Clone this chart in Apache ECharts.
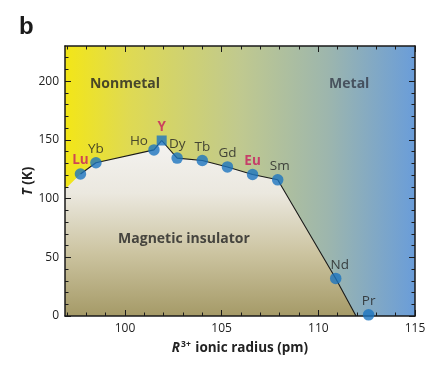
<!DOCTYPE html>
<html>
<head>
<meta charset="utf-8">
<script src="https://cdn.jsdelivr.net/npm/echarts@6/dist/echarts.min.js"></script>
<style>
html,body{margin:0;padding:0;background:#fff;}
#chart{width:445px;height:378px;}
</style>
</head>
<body>
<div id="chart"></div>
<script>
// ---- data ----
var elements = ['Lu', 'Yb', 'Ho', 'Y', 'Dy', 'Tb', 'Gd', 'Eu', 'Sm', 'Nd', 'Pr'];
var radius   = [97.7, 98.5, 101.5, 101.9, 102.7, 104.0, 105.3, 106.6, 107.9, 110.9, 112.6];
var tempK    = [121, 130.5, 141.5, 149.5, 134.5, 132.5, 127, 120.5, 116, 32, 1];
var highlighted = ['Lu', 'Y', 'Eu'];

// phase boundary (line) and insulator region (fill)
var boundaryX = [97.7, 98.5, 101.5, 101.9, 102.7, 104.0, 105.3, 106.6, 107.9, 110.9, 111.95];
var boundaryY = [121, 130.5, 141.5, 149.5, 134.5, 132.5, 127, 120.5, 116, 32, 0];
var regionX = [96.9].concat(boundaryX);
var regionY = [108].concat(boundaryY);

var regionNames = ['Nonmetal', 'Metal', 'Magnetic insulator'];
var regionLabelX = [100.0, 111.6, 103.05];
var regionLabelY = [198, 198, 66];

var xMin = 96.9, xMax = 115, yMin = 0, yMax = 230;
var xMajor = [100, 105, 110, 115];
var xMinor = [97, 98, 99, 101, 102, 103, 104, 106, 107, 108, 109, 111, 112, 113, 114];
var yMajor = [0, 50, 100, 150, 200];
var yMinor = [10, 20, 30, 40, 60, 70, 80, 90, 110, 120, 130, 140, 160, 170, 180, 190, 210, 220];

// ---- styling ----
var FONT = 'Open Sans';
var axisCol = '#1a1a1a';
var magenta = '#c81d5e';

function pairs(xs, ys) { return xs.map(function (x, i) { return [x, ys[i]]; }); }

function xAx(pos, ticks, len, showLine, showLabel) {
  var line = { show: showLine, lineStyle: { color: axisCol, width: 1.5 } };
  if (pos === 'top') { line.onZeroAxisIndex = 4; }
  return {
    type: 'value', position: pos, min: xMin, max: xMax, zlevel: 1, z: 10,
    axisLine: line,
    axisTick: { show: true, inside: true, length: len, customValues: ticks, lineStyle: { color: axisCol, width: 1 } },
    axisLabel: { show: showLabel, customValues: ticks, color: '#222', fontFamily: FONT, fontSize: 12, margin: 7 },
    splitLine: { show: false }
  };
}
function yAx(pos, ticks, len, showLine, showLabel) {
  return {
    type: 'value', position: pos, min: yMin, max: yMax, zlevel: 1, z: 10,
    axisLine: { show: showLine, lineStyle: { color: axisCol, width: 1.5 } },
    axisTick: { show: true, inside: true, length: len, customValues: ticks, lineStyle: { color: axisCol, width: 1 } },
    axisLabel: { show: showLabel, customValues: ticks, color: '#222', fontFamily: FONT, fontSize: 12, margin: 6 },
    splitLine: { show: false }
  };
}

var xAxes = [
  xAx('bottom', xMajor, 6, true, true),
  xAx('bottom', xMinor, 3.5, false, false),
  xAx('top', xMajor, 6, true, false),
  xAx('top', xMinor, 3.5, false, false)
];
xAxes[0].name = '{i|R}{sup|3+}{b| ionic radius (pm)}';
xAxes[0].nameLocation = 'middle';
xAxes[0].nameGap = 24;
xAxes[0].nameMoveOverlap = false;
xAxes[0].nameTextStyle = {
  color: '#222', fontFamily: FONT, fontSize: 13.5, fontWeight: 'bold',
  rich: {
    i: { fontStyle: 'italic', fontWeight: 'bold', fontSize: 13.5, fontFamily: FONT, color: '#222' },
    sup: { fontSize: 8.5, fontWeight: 'bold', fontFamily: FONT, color: '#222', padding: [0, 1, 7, 1] },
    b: { fontWeight: 'bold', fontSize: 13.5, fontFamily: FONT, color: '#222' }
  }
};

var yAxes = [
  yAx('left', yMajor, 6, true, true),
  yAx('left', yMinor, 3.5, false, false),
  yAx('right', yMajor, 6, true, false),
  yAx('right', yMinor, 3.5, false, false),
  // helper axis (hidden): keeps the top x axes pinned to the top edge
  { type: 'value', min: 1, max: 2, show: false }
];
yAxes[0].name = '{i|T}{b| (K)}';
yAxes[0].nameLocation = 'middle';
yAxes[0].nameGap = 30;
yAxes[0].nameMoveOverlap = false;
yAxes[0].nameTextStyle = {
  color: '#222', fontFamily: FONT, fontSize: 13.5, fontWeight: 'bold',
  rich: {
    i: { fontStyle: 'italic', fontWeight: 'bold', fontSize: 13.5, fontFamily: FONT, color: '#222' },
    b: { fontWeight: 'bold', fontSize: 13.5, fontFamily: FONT, color: '#222' }
  }
};

var labelOffsets = { Ho: [-15, 5], Nd: [4, 0], Sm: [2, 0] };

var dotData = elements.map(function (el, i) {
  var hl = highlighted.indexOf(el) >= 0;
  return {
    name: el,
    value: [radius[i], tempK[i]],
    symbol: el === 'Y' ? 'rect' : 'circle',
    symbolSize: el === 'Y' ? 10 : 11.5,
    label: {
      show: true, position: 'top', distance: 1,
      offset: labelOffsets[el] || [0, 0],
      formatter: el,
      color: hl ? magenta : '#222',
      fontWeight: hl ? 'bold' : 'normal',
      fontFamily: FONT, fontSize: 13.5
    }
  };
});

var regionData = regionNames.map(function (n, i) {
  return {
    name: n, value: [regionLabelX[i], regionLabelY[i]],
    label: {
      show: true, position: 'inside', formatter: n,
      color: n === 'Metal' ? '#353b48' : '#222',
      fontWeight: 'bold', fontFamily: FONT, fontSize: 14
    }
  };
});

var bgGradient = new echarts.graphic.LinearGradient(0, 0, 1, 0, [
  { offset: 0, color: '#f3e617' },
  { offset: 0.18, color: '#dfda52' },
  { offset: 0.5, color: '#c0c98f' },
  { offset: 0.75, color: '#9db6ad' },
  { offset: 1, color: '#6a9dd9' }
]);

var chart = echarts.init(document.getElementById('chart'), null, { renderer: 'canvas' });
chart.setOption({
  animation: false,
  grid: { left: 65, right: 30, top: 46, bottom: 62, zlevel: 1, z: 10 },
  graphic: [{
    type: 'text', left: 19, top: 15,
    style: { text: 'b', fontFamily: 'Liberation Sans', fontWeight: 'bold', fontSize: 24, fill: '#1a1a1a' }
  }],
  xAxis: xAxes,
  yAxis: yAxes,
  series: [
    {
      type: 'line', data: pairs(regionX, regionY), symbol: 'none', silent: true, z: 1,
      lineStyle: { width: 0, opacity: 0 },
      areaStyle: {
        origin: 'start', opacity: 1,
        color: new echarts.graphic.LinearGradient(0, 0, 0, 1, [
          { offset: 0, color: '#f4f3f1' },
          { offset: 0.3, color: '#ebe8df' },
          { offset: 0.65, color: '#cbc39f' },
          { offset: 1, color: '#a59a67' }
        ])
      },
      markArea: {
        silent: true,
        itemStyle: { color: bgGradient, opacity: 1 },
        data: [[{ coord: [xMin, yMin] }, { coord: [xMax, yMax] }]]
      }
    },
    {
      type: 'line', data: pairs(boundaryX, boundaryY), symbol: 'none', silent: true, z: 2,
      lineStyle: { color: '#1a1a1a', width: 1.1 }
    },
    {
      type: 'scatter', data: dotData, zlevel: 2, z: 20,
      itemStyle: { color: '#1b74bf' }
    },
    {
      type: 'scatter', data: regionData, symbolSize: 0, z: 3, silent: true
    }
  ]
});
</script>
</body>
</html>
